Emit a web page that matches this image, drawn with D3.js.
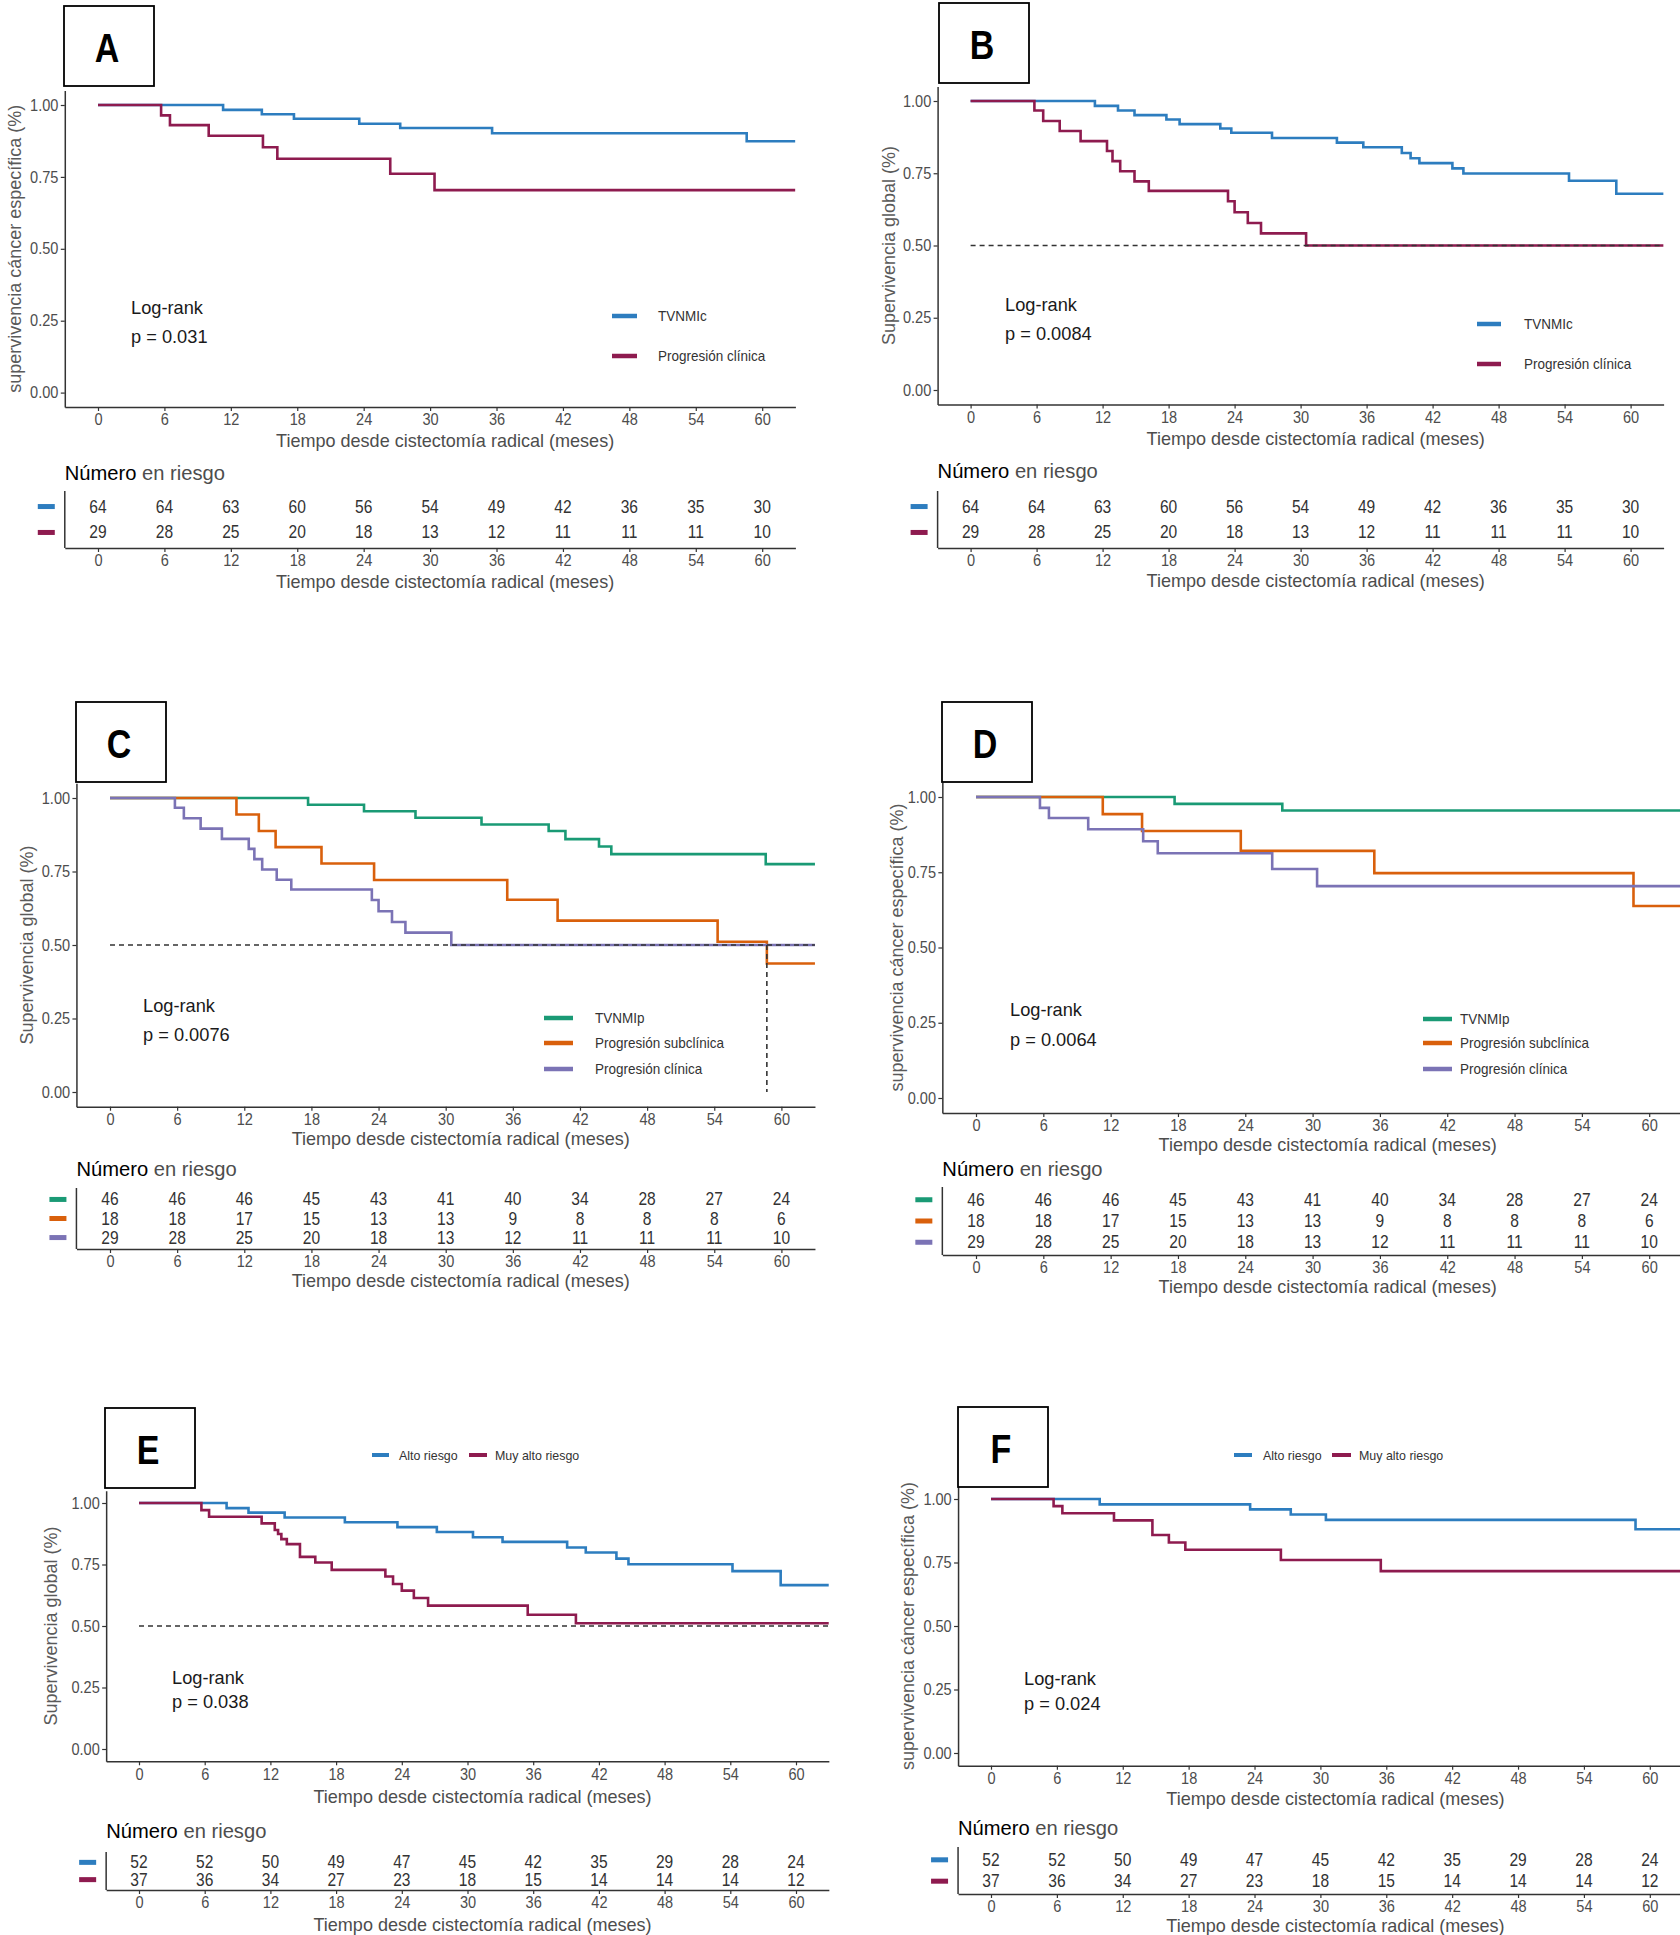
<!DOCTYPE html>
<html>
<head>
<meta charset="utf-8">
<script src="https://cdn.jsdelivr.net/npm/d3@7"></script>
<style>
  body { margin: 0; background: #fff; }
  text { font-family: "Liberation Sans", Arial, sans-serif; }
</style>
</head>
<body>
<script>
// months shown on the x axes and in the risk tables
var months = d3.range(0, 61, 6)

// Kaplan-Meier steps (time in months, survival)
// clinical progression, cancer specific (A, D)
var tClinCss = [0, 5.7, 6.5, 10.0, 14.9, 16.2, 26.4, 30.4]
var sClinCss = [1, 0.964, 0.930, 0.893, 0.853, 0.813, 0.761, 0.704]
// clinical progression, overall (B, C)
var tClinOs = [0, 5.8, 6.6, 8.1, 10.0, 12.4, 12.9, 13.6, 14.9, 16.2, 23.4, 24.0, 25.2, 26.4, 30.5]
var sClinOs = [1, 0.967, 0.931, 0.896, 0.861, 0.827, 0.792, 0.757, 0.722, 0.689, 0.653, 0.615, 0.578, 0.542, 0.500]
// TVNMIc
var tTvcCss = [0, 11.3, 14.8, 17.7, 23.6, 27.3, 35.6, 58.6]
var sTvcCss = [1, 0.983, 0.968, 0.952, 0.935, 0.920, 0.902, 0.874]
var tTvcOs = [0, 11.3, 13.4, 14.9, 17.8, 19.0, 22.7, 23.7, 27.4, 33.3, 35.7, 39.2, 40.0, 40.8, 43.8, 44.8, 54.4, 58.7]
var sTvcOs = [1, 0.983, 0.967, 0.951, 0.936, 0.920, 0.905, 0.890, 0.872, 0.856, 0.840, 0.820, 0.802, 0.785, 0.767, 0.749, 0.724, 0.679]
// TVNMIp
var tTvpOs = [0, 17.7, 22.7, 27.3, 33.2, 39.2, 40.7, 43.7, 44.8, 58.6]
var sTvpOs = [1, 0.977, 0.955, 0.933, 0.910, 0.888, 0.860, 0.835, 0.809, 0.775]
var tTvpCss = [0, 17.7, 27.3]
var sTvpCss = [1, 0.977, 0.955]
// subclinical progression
var tSubOs = [0, 11.3, 13.3, 14.8, 18.9, 23.6, 35.5, 40.0, 54.3, 58.7]
var sSubOs = [1, 0.944, 0.888, 0.833, 0.777, 0.721, 0.654, 0.583, 0.511, 0.437]
var tSubCss = [0, 11.3, 14.8, 23.6, 35.5, 58.6]
var sSubCss = [1, 0.943, 0.887, 0.821, 0.747, 0.638]
// alto riesgo / muy alto riesgo
var tAltoOs = [0, 8.0, 10.0, 13.3, 18.8, 23.6, 27.2, 30.5, 33.2, 39.1, 40.8, 43.6, 44.7, 54.2, 58.6]
var sAltoOs = [1, 0.979, 0.961, 0.941, 0.922, 0.902, 0.882, 0.861, 0.842, 0.819, 0.799, 0.774, 0.751, 0.723, 0.666]
var tMuyOs = [0, 5.7, 6.4, 11.2, 12.4, 12.7, 13.0, 13.5, 14.7, 16.1, 17.6, 22.5, 23.2, 24.0, 25.1, 26.4, 35.5, 39.9]
var sMuyOs = [1, 0.971, 0.944, 0.917, 0.890, 0.874, 0.853, 0.833, 0.781, 0.758, 0.728, 0.701, 0.671, 0.644, 0.614, 0.583, 0.546, 0.511]
var tAltoCss = [0, 9.9, 23.6, 27.3, 30.5, 58.7]
var sAltoCss = [1, 0.979, 0.959, 0.939, 0.918, 0.881]
var tMuyCss = [0, 5.7, 6.5, 11.2, 14.7, 16.2, 17.7, 26.4, 35.5]
var sMuyCss = [1, 0.972, 0.944, 0.916, 0.858, 0.829, 0.800, 0.760, 0.716]

// numbers at risk
var riskTvc = [64, 64, 63, 60, 56, 54, 49, 42, 36, 35, 30]
var riskClin = [29, 28, 25, 20, 18, 13, 12, 11, 11, 11, 10]
var riskTvp = [46, 46, 46, 45, 43, 41, 40, 34, 28, 27, 24]
var riskSub = [18, 18, 17, 15, 13, 13, 9, 8, 8, 8, 6]
var riskAlto = [52, 52, 50, 49, 47, 45, 42, 35, 29, 28, 24]
var riskMuy = [37, 36, 34, 27, 23, 18, 15, 14, 14, 14, 12]

var blue = "#2d7dbf", maroon = "#8e1b4f", green = "#1a9a75", orange = "#d9600c", purple = "#7b73b5"
var xTitle = "Tiempo desde cistectomía radical (meses)"

var svg = d3.select("body").append("svg")
  .attr("width", 1680)
  .attr("height", 1935)
  .style("background", "#fff")

// text squeezed a little horizontally, like the reference
function label(g, x, y, s, size, sx, color, anchor) {
  return g.append("text")
    .attr("transform", `translate(${x},${y}) scale(${sx},1)`)
    .attr("font-size", size)
    .attr("fill", color)
    .attr("text-anchor", anchor || "start")
    .text(s)
}

function styleAxis(a, sx) {
  a.select(".domain").attr("stroke", "#333").attr("stroke-width", 1.5)
  a.selectAll(".tick line").attr("stroke", "#333").attr("stroke-width", 1.2)
  a.selectAll(".tick text")
    .attr("font-size", 16)
    .attr("fill", "#4d4d4d")
    .attr("font-family", '"Liberation Sans", Arial, sans-serif')
    .attr("transform", `scale(${sx},1)`)
}

var panels = [
  {letter: "A", box: [64, 6], x0: 98, ppm: 11.07, y1: 105, y0: 392.6,
   ytitle: "supervivencia cáncer específica (%)", ytx: 15,
   lr: [131, 314], pdy: 29, pval: "p = 0.031", titleOff: 33,
   curves: [[tTvcCss, sTvcCss, blue, "TVNMIc"], [tClinCss, sClinCss, maroon, "Progresión clínica"]],
   legend: {x1: 612, x2: 637, tx: 658, ys: [316, 356]},
   risk: [riskTvc, riskClin], num: 480, tTop: 491, tBot: 548, tTitleOff: 33},
  {letter: "B", box: [939, 3], x0: 970.6, ppm: 11.0, y1: 101, y0: 390,
   ytitle: "Supervivencia global (%)", ytx: 889,
   lr: [1005, 311], pdy: 29, pval: "p = 0.0084", titleOff: 34, median: true,
   curves: [[tTvcOs, sTvcOs, blue, "TVNMIc"], [tClinOs, sClinOs, maroon, "Progresión clínica"]],
   legend: {x1: 1477, x2: 1501, tx: 1524, ys: [324, 364]},
   risk: [riskTvc, riskClin], num: 478, tTop: 491, tBot: 548, tTitleOff: 32},
  {letter: "C", box: [76, 702], x0: 110, ppm: 11.19, y1: 798, y0: 1092,
   ytitle: "Supervivencia global (%)", ytx: 27,
   lr: [143, 1012], pdy: 29, pval: "p = 0.0076", titleOff: 31, median: true, vmedian: 58.7,
   curves: [[tTvpOs, sTvpOs, green, "TVNMIp"], [tSubOs, sSubOs, orange, "Progresión subclínica"], [tClinOs, sClinOs, purple, "Progresión clínica"]],
   legend: {x1: 544, x2: 573, tx: 595, ys: [1018, 1043, 1069]},
   risk: [riskTvp, riskSub, riskClin], num: 1176, tTop: 1188, tBot: 1249, tTitleOff: 31},
  {letter: "D", box: [942, 702], x0: 976, ppm: 11.22, y1: 797, y0: 1098,
   ytitle: "supervivencia cáncer específica (%)", ytx: 897,
   lr: [1010, 1016], pdy: 30, pval: "p = 0.0064", titleOff: 31,
   curves: [[tTvpCss, sTvpCss, green, "TVNMIp"], [tSubCss, sSubCss, orange, "Progresión subclínica"], [tClinCss, sClinCss, purple, "Progresión clínica"]],
   legend: {x1: 1423, x2: 1452, tx: 1460, ys: [1019, 1043, 1069]},
   risk: [riskTvp, riskSub, riskClin], num: 1176, tTop: 1187, tBot: 1255, tTitleOff: 31},
  {letter: "E", box: [105, 1408], x0: 139, ppm: 10.95, y1: 1503, y0: 1749,
   ytitle: "Supervivencia global (%)", ytx: 51,
   lr: [172, 1684], pdy: 24, pval: "p = 0.038", titleOff: 35, median: true,
   curves: [[tAltoOs, sAltoOs, blue, "Alto riesgo"], [tMuyOs, sMuyOs, maroon, "Muy alto riesgo"]],
   topLegend: {y: 1455, items: [[372, 389, 399], [469, 487, 495]]},
   risk: [riskAlto, riskMuy], num: 1838, tTop: 1852, tBot: 1890, tTitleOff: 34},
  {letter: "F", box: [958, 1407], x0: 991, ppm: 10.98, y1: 1499, y0: 1753,
   ytitle: "supervivencia cáncer específica (%)", ytx: 908,
   lr: [1024, 1685], pdy: 25, pval: "p = 0.024", titleOff: 32,
   curves: [[tAltoCss, sAltoCss, blue, "Alto riesgo"], [tMuyCss, sMuyCss, maroon, "Muy alto riesgo"]],
   topLegend: {y: 1455, items: [[1234, 1252, 1263], [1332, 1351, 1359]]},
   risk: [riskAlto, riskMuy], num: 1835, tTop: 1847, tBot: 1894, tTitleOff: 31}
]

panels.forEach(function(p, pi) {
  var g = svg.append("g")
  var h = p.y0 - p.y1
  var x = d3.scaleLinear().domain([-3, 63]).range([p.x0 - 3 * p.ppm, p.x0 + 63 * p.ppm])
  var y = d3.scaleLinear().domain([-0.05, 1.05]).range([p.y0 + 0.05 * h, p.y1 - 0.05 * h])
  var left = x(-3), right = x(63), mid = (left + right) / 2 + 15

  // clip for the curves
  var cid = "clip" + pi
  g.append("clipPath").attr("id", cid)
    .append("rect")
    .attr("x", left).attr("y", y(1.05) - 4)
    .attr("width", right - left).attr("height", y(-0.05) - y(1.05) + 4)

  // axes
  var xa = g.append("g")
    .attr("transform", `translate(0,${y(-0.05)})`)
    .call(d3.axisBottom(x).tickValues(months).tickSize(4).tickSizeOuter(0).tickPadding(3))
  styleAxis(xa, 0.91)
  var ya = g.append("g")
    .attr("transform", `translate(${left},0)`)
    .call(d3.axisLeft(y).tickValues([0, 0.25, 0.5, 0.75, 1]).tickFormat(d3.format(".2f")).tickSize(4).tickSizeOuter(0).tickPadding(3))
  styleAxis(ya, 0.91)

  label(g, mid, y(-0.05) + p.titleOff + 6.8, xTitle, 19, 0.95, "#4d4d4d", "middle")
  g.append("text")
    .attr("transform", `translate(${p.ytx},${(y(-0.05) + y(1.05)) / 2}) rotate(-90)`)
    .attr("dy", "0.35em")
    .attr("text-anchor", "middle")
    .attr("font-size", 18)
    .attr("fill", "#5a5a5a")
    .text(p.ytitle)

  // survival curves
  var line = d3.line().x(d => x(d[0])).y(d => y(d[1])).curve(d3.curveStepAfter)
  var cg = g.append("g").attr("clip-path", `url(#${cid})`)
  p.curves.forEach(function(c) {
    var pts = c[0].map((t, i) => [t, c[1][i]])
    pts.push([63, c[1][c[1].length - 1]])
    cg.append("path")
      .attr("d", line(pts))
      .attr("fill", "none")
      .attr("stroke", c[2])
      .attr("stroke-width", 2.6)
  })

  // median survival lines
  if (p.median) {
    cg.append("line")
      .attr("x1", x(0)).attr("x2", x(63))
      .attr("y1", y(0.5)).attr("y2", y(0.5))
      .attr("stroke", "#333").attr("stroke-width", 1.6)
      .attr("stroke-dasharray", "5,4")
  }
  if (p.vmedian) {
    cg.append("line")
      .attr("x1", x(p.vmedian)).attr("x2", x(p.vmedian))
      .attr("y1", y(0.5)).attr("y2", y(0))
      .attr("stroke", "#333").attr("stroke-width", 1.6)
      .attr("stroke-dasharray", "5,4")
  }

  // log-rank
  label(g, p.lr[0], p.lr[1], "Log-rank", 19, 0.96, "#1a1a1a")
  label(g, p.lr[0], p.lr[1] + p.pdy, p.pval, 19, 0.96, "#1a1a1a")

  // legend
  if (p.legend) {
    p.curves.forEach(function(c, i) {
      g.append("line")
        .attr("x1", p.legend.x1).attr("x2", p.legend.x2)
        .attr("y1", p.legend.ys[i]).attr("y2", p.legend.ys[i])
        .attr("stroke", c[2]).attr("stroke-width", 4.5)
      label(g, p.legend.tx, p.legend.ys[i] + 5, c[3], 15, 0.9, "#333")
    })
  }
  if (p.topLegend) {
    p.curves.forEach(function(c, i) {
      var it = p.topLegend.items[i]
      g.append("line")
        .attr("x1", it[0]).attr("x2", it[1])
        .attr("y1", p.topLegend.y).attr("y2", p.topLegend.y)
        .attr("stroke", c[2]).attr("stroke-width", 4)
      label(g, it[2], p.topLegend.y + 5, c[3], 13.5, 0.92, "#333")
    })
  }

  // panel letter box
  var bw = 90, bh = 80
  g.append("rect")
    .attr("x", p.box[0]).attr("y", p.box[1])
    .attr("width", bw).attr("height", bh)
    .attr("fill", "#fff").attr("stroke", "#000").attr("stroke-width", 1.8)
  label(g, p.box[0] + bw / 2 - 2, p.box[1] + bh / 2 + 16, p.letter, 40, 0.85, "#000", "middle")
    .attr("font-weight", "bold")

  // risk table
  var nt = g.append("text")
    .attr("transform", `translate(${left},${p.num}) scale(0.96,1)`)
    .attr("font-size", 21)
  nt.append("tspan").attr("fill", "#000").text("Número")
  nt.append("tspan").attr("fill", "#4d4d4d").text(" en riesgo")

  var ty = d3.scaleLinear().domain([0.4, p.risk.length + 0.6]).range([p.tTop, p.tBot])
  g.append("line")
    .attr("x1", left).attr("x2", left)
    .attr("y1", p.tTop).attr("y2", p.tBot)
    .attr("stroke", "#333").attr("stroke-width", 1.5)
  var ta = g.append("g")
    .attr("transform", `translate(0,${p.tBot})`)
    .call(d3.axisBottom(x).tickValues(months).tickSize(4).tickSizeOuter(0).tickPadding(3))
  styleAxis(ta, 0.91)
  label(g, mid, p.tBot + p.tTitleOff + 6.8, xTitle, 19, 0.95, "#4d4d4d", "middle")

  p.risk.forEach(function(row, i) {
    var yy = ty(i + 1)
    g.append("rect")
      .attr("x", left - 27).attr("y", yy - 2.5)
      .attr("width", 17).attr("height", 5)
      .attr("fill", p.curves[i][2])
    row.forEach(function(v, j) {
      label(g, x(months[j]), yy + 6, v, 17.5, 0.89, "#333", "middle")
    })
  })
})
</script>
</body>
</html>
